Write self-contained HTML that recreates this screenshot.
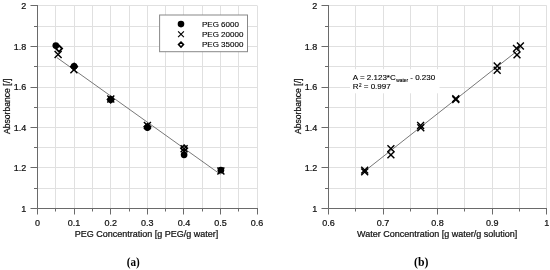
<!DOCTYPE html>
<html><head><meta charset="utf-8"><style>
html,body{margin:0;padding:0;background:#fff;width:550px;height:270px;overflow:hidden}
svg{display:block}
.t{font-family:"Liberation Sans",Arial,sans-serif;font-size:9px;fill:#111;stroke:#111;stroke-width:0.22px}
.ya{font-family:"Liberation Sans",Arial,sans-serif;font-size:8.6px;fill:#111;stroke:#111;stroke-width:0.22px}
.lg{font-family:"Liberation Sans",Arial,sans-serif;font-size:8px;fill:#000;stroke:#000;stroke-width:0.12px}
.sub{font-size:4.8px}
.lab{font-family:"Liberation Serif","Times New Roman",serif;font-size:12.4px;font-weight:bold;fill:#000}
</style></head><body>
<svg width="550" height="270" viewBox="0 0 550 270">
<rect width="550" height="270" fill="#fff"/>
<path d="M55.50 5.5V208.5 M92.50 5.5V208.5 M129.50 5.5V208.5 M165.50 5.5V208.5 M202.50 5.5V208.5 M238.50 5.5V208.5 M74.50 5.5V208.5 M110.50 5.5V208.5 M147.50 5.5V208.5 M183.50 5.5V208.5 M220.50 5.5V208.5 M257.50 5.5V208.5 M37.50 188.50H257.10 M37.50 167.50H257.10 M37.50 147.50H257.10 M37.50 127.50H257.10 M37.50 107.50H257.10 M37.50 87.50H257.10 M37.50 66.50H257.10 M37.50 46.50H257.10 M37.50 26.50H257.10 M37.50 5.50H257.10" stroke="#e0e0e0" stroke-width="1" fill="none"/>
<path d="M37.50 5V208.5H258.00 M37.50 208.5V214.5 M74.50 208.5V214.5 M110.50 208.5V214.5 M147.50 208.5V214.5 M183.50 208.5V214.5 M220.50 208.5V214.5 M257.50 208.5V214.5 M55.50 208.5V211.5 M92.50 208.5V211.5 M129.50 208.5V211.5 M165.50 208.5V211.5 M202.50 208.5V211.5 M238.50 208.5V211.5 M30.50 208.50H37.50 M34.00 188.50H37.50 M30.50 167.50H37.50 M34.00 147.50H37.50 M30.50 127.50H37.50 M34.00 107.50H37.50 M30.50 87.50H37.50 M34.00 66.50H37.50 M30.50 46.50H37.50 M34.00 26.50H37.50 M30.50 5.50H37.50" stroke="#6a6a6a" stroke-width="1" fill="none"/>
<text x="37.50" y="226.4" text-anchor="middle" class="t">0</text>
<text x="74.10" y="226.4" text-anchor="middle" class="t">0.1</text>
<text x="110.70" y="226.4" text-anchor="middle" class="t">0.2</text>
<text x="147.30" y="226.4" text-anchor="middle" class="t">0.3</text>
<text x="183.90" y="226.4" text-anchor="middle" class="t">0.4</text>
<text x="220.50" y="226.4" text-anchor="middle" class="t">0.5</text>
<text x="257.10" y="226.4" text-anchor="middle" class="t">0.6</text>
<text x="26.20" y="211.90" text-anchor="end" class="t">1</text>
<text x="26.20" y="171.40" text-anchor="end" class="t">1.2</text>
<text x="26.20" y="130.90" text-anchor="end" class="t">1.4</text>
<text x="26.20" y="90.40" text-anchor="end" class="t">1.6</text>
<text x="26.20" y="49.90" text-anchor="end" class="t">1.8</text>
<text x="26.20" y="9.40" text-anchor="end" class="t">2</text>
<text x="74.8" y="236.6" class="t">PEG Concentration [g PEG/g water]</text>
<text transform="translate(10.3 106.3) rotate(-90)" text-anchor="middle" class="ya">Absorbance [/]</text>
<path d="M355.50 5.5V208.5 M410.50 5.5V208.5 M464.50 5.5V208.5 M519.50 5.5V208.5 M383.50 5.5V208.5 M437.50 5.5V208.5 M492.50 5.5V208.5 M546.50 5.5V208.5 M328.50 188.50H546.70 M328.50 167.50H546.70 M328.50 147.50H546.70 M328.50 127.50H546.70 M328.50 107.50H546.70 M328.50 87.50H546.70 M328.50 66.50H546.70 M328.50 46.50H546.70 M328.50 26.50H546.70 M328.50 5.50H546.70" stroke="#e0e0e0" stroke-width="1" fill="none"/>
<path d="M328.50 5V208.5H547.00 M328.50 208.5V214.5 M383.50 208.5V214.5 M437.50 208.5V214.5 M492.50 208.5V214.5 M546.50 208.5V214.5 M355.50 208.5V211.5 M410.50 208.5V211.5 M464.50 208.5V211.5 M519.50 208.5V211.5 M321.50 208.50H328.50 M325.00 188.50H328.50 M321.50 167.50H328.50 M325.00 147.50H328.50 M321.50 127.50H328.50 M325.00 107.50H328.50 M321.50 87.50H328.50 M325.00 66.50H328.50 M321.50 46.50H328.50 M325.00 26.50H328.50 M321.50 5.50H328.50" stroke="#6a6a6a" stroke-width="1" fill="none"/>
<text x="328.50" y="226.4" text-anchor="middle" class="t">0.6</text>
<text x="383.05" y="226.4" text-anchor="middle" class="t">0.7</text>
<text x="437.60" y="226.4" text-anchor="middle" class="t">0.8</text>
<text x="492.15" y="226.4" text-anchor="middle" class="t">0.9</text>
<text x="546.70" y="226.4" text-anchor="middle" class="t">1</text>
<text x="317.20" y="211.90" text-anchor="end" class="t">1</text>
<text x="317.20" y="171.40" text-anchor="end" class="t">1.2</text>
<text x="317.20" y="130.90" text-anchor="end" class="t">1.4</text>
<text x="317.20" y="90.40" text-anchor="end" class="t">1.6</text>
<text x="317.20" y="49.90" text-anchor="end" class="t">1.8</text>
<text x="317.20" y="9.40" text-anchor="end" class="t">2</text>
<text x="357" y="236.6" class="t">Water Concentration [g water/g solution]</text>
<text transform="translate(301.3 106.3) rotate(-90)" text-anchor="middle" class="ya">Absorbance [/]</text>
<path d="M57.0 57.66L220.5 174.40" stroke="#555" stroke-width="0.8"/>
<path d="M59.00 45.50L62.10 48.60L59.00 51.70L55.90 48.60Z" stroke="#000" stroke-width="1.8" fill="#fff"/>
<path d="M74.10 63.50L77.20 66.60L74.10 69.70L71.00 66.60Z" stroke="#000" stroke-width="1.8" fill="#fff"/>
<path d="M110.70 96.50L113.80 99.60L110.70 102.70L107.60 99.60Z" stroke="#000" stroke-width="1.8" fill="#fff"/>
<path d="M147.40 123.70L150.50 126.80L147.40 129.90L144.30 126.80Z" stroke="#000" stroke-width="1.8" fill="#fff"/>
<path d="M184.10 145.20L187.20 148.30L184.10 151.40L181.00 148.30Z" stroke="#000" stroke-width="1.8" fill="#fff"/>
<circle cx="55.80" cy="45.60" r="3.35" fill="#000"/>
<circle cx="74.10" cy="66.30" r="3.35" fill="#000"/>
<circle cx="110.70" cy="99.50" r="3.35" fill="#000"/>
<circle cx="147.40" cy="127.60" r="3.35" fill="#000"/>
<circle cx="184.10" cy="154.80" r="3.35" fill="#000"/>
<circle cx="220.90" cy="170.20" r="3.35" fill="#000"/>
<path d="M54.60 50.90L61.60 57.90M61.60 50.90L54.60 57.90" stroke="#000" stroke-width="1.45"/>
<path d="M70.40 66.20L77.40 73.20M77.40 66.20L70.40 73.20" stroke="#000" stroke-width="1.45"/>
<path d="M107.30 95.40L114.30 102.40M114.30 95.40L107.30 102.40" stroke="#000" stroke-width="1.45"/>
<path d="M143.90 122.10L150.90 129.10M150.90 122.10L143.90 129.10" stroke="#000" stroke-width="1.45"/>
<path d="M180.60 145.20L187.60 152.20M187.60 145.20L180.60 152.20" stroke="#000" stroke-width="1.45"/>
<path d="M217.40 167.40L224.40 174.40M224.40 167.40L217.40 174.40" stroke="#000" stroke-width="1.45"/>
<rect x="159.6" y="15" width="87.9" height="36.7" fill="#fff" stroke="#888" stroke-width="1"/>
<circle cx="181.00" cy="24.10" r="3.3" fill="#000"/>
<path d="M178.10 31.40L183.90 37.20M183.90 31.40L178.10 37.20" stroke="#000" stroke-width="1.15"/>
<path d="M181.00 42.10L183.50 44.60L181.00 47.10L178.50 44.60Z" stroke="#000" stroke-width="1.5" fill="#fff"/>
<text x="202" y="27.4" class="lg">PEG 6000</text>
<text x="202" y="37.1" class="lg">PEG 20000</text>
<text x="202" y="46.8" class="lg">PEG 35000</text>
<path d="M364.50 171.26L520.52 48.30" stroke="#555" stroke-width="0.8"/>
<path d="M361.25 166.65L368.15 173.55M368.15 166.65L361.25 173.55" stroke="#000" stroke-width="1.45"/>
<path d="M361.25 168.45L368.15 175.35M368.15 168.45L361.25 175.35" stroke="#000" stroke-width="1.45"/>
<path d="M387.45 145.15L394.35 152.05M394.35 145.15L387.45 152.05" stroke="#000" stroke-width="1.45"/>
<path d="M387.45 151.45L394.35 158.35M394.35 151.45L387.45 158.35" stroke="#000" stroke-width="1.45"/>
<path d="M417.15 122.05L424.05 128.95M424.05 122.05L417.15 128.95" stroke="#000" stroke-width="1.45"/>
<path d="M417.35 124.25L424.25 131.15M424.25 124.25L417.35 131.15" stroke="#000" stroke-width="1.45"/>
<path d="M452.35 95.15L459.25 102.05M459.25 95.15L452.35 102.05" stroke="#000" stroke-width="1.45"/>
<path d="M452.35 96.15L459.25 103.05M459.25 96.15L452.35 103.05" stroke="#000" stroke-width="1.45"/>
<path d="M493.75 62.55L500.65 69.45M500.65 62.55L493.75 69.45" stroke="#000" stroke-width="1.45"/>
<path d="M493.75 66.75L500.65 73.65M500.65 66.75L493.75 73.65" stroke="#000" stroke-width="1.45"/>
<path d="M516.95 42.55L523.85 49.45M523.85 42.55L516.95 49.45" stroke="#000" stroke-width="1.45"/>
<path d="M513.05 44.95L519.95 51.85M519.95 44.95L513.05 51.85" stroke="#000" stroke-width="1.45"/>
<path d="M513.55 51.45L520.45 58.35M520.45 51.45L513.55 58.35" stroke="#000" stroke-width="1.45"/>
<rect x="350" y="69.3" width="89.5" height="24" fill="#fff"/>
<text x="352.8" y="80.2" class="lg">A = 2.123*C<tspan class="sub" dx="0.6" dy="1.4">water</tspan><tspan dy="-1.4"> - 0.230</tspan></text>
<text x="352.8" y="89.3" class="lg">R<tspan dx="0.4" dy="-2.5" style="font-size:4.6px">2</tspan><tspan dy="2.5"> = 0.997</tspan></text>
<text x="126.7" y="265.6" class="lab" textLength="13.0" lengthAdjust="spacingAndGlyphs">(a)</text>
<text x="414.0" y="265.6" class="lab" textLength="14.4" lengthAdjust="spacingAndGlyphs">(b)</text>
</svg>
</body></html>
